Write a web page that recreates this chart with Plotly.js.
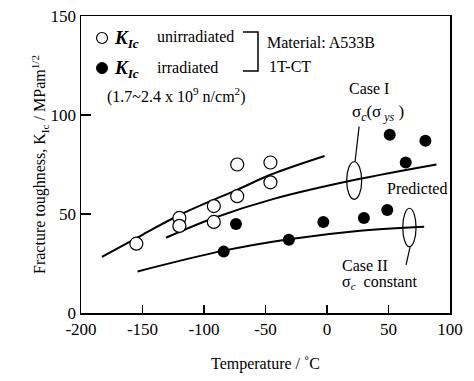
<!DOCTYPE html>
<html>
<head>
<meta charset="utf-8">
<script src="https://cdn.plot.ly/plotly-3.0.1.min.js"></script>
<style>html,body{margin:0;padding:0;background:#fff;}#chart{width:474px;height:381px;}</style>
</head>
<body>
<div id="chart"></div>
<script>
// Measured K_Ic data (temperature in °C, K_Ic in MPa m^1/2)
const unirrTemp = [-155, -120, -120, -92, -92, -73, -73, -46, -46];
const unirrKIc  = [35, 48, 44, 54, 46, 75, 59, 76, 66];
const irrTemp   = [-84, -74, -31, -3, 30, 49, 51, 64, 80];
const irrKIc    = [31, 45, 37, 46, 48, 52, 90, 76, 87];

// Fitted / predicted curves
const unirrFitTemp = [-183, -150, -120, -90, -73, -46, -2];
const unirrFitKIc  = [28.4, 39.5, 49.5, 57.8, 62.2, 69.8, 79.3];
const caseITemp = [-131, -92, -44, 21, 89];
const caseIKIc  = [38, 48, 57.5, 67, 75];
const caseIITemp = [-154, -84, -31, 27, 79];
const caseIIKIc  = [21, 31.5, 37.3, 41.6, 43.6];

const xTicks = [-200, -150, -100, -50, 0, 50, 100];
const yTicks = [0, 50, 100, 150];

const FONT = 'Liberation Serif';

const traces = [
  {x: unirrFitTemp, y: unirrFitKIc, mode: 'lines', line: {color: '#000', width: 2, shape: 'spline'}, showlegend: false, hoverinfo: 'skip'},
  {x: caseITemp, y: caseIKIc, mode: 'lines', line: {color: '#000', width: 2, shape: 'spline'}, showlegend: false, hoverinfo: 'skip'},
  {x: caseIITemp, y: caseIIKIc, mode: 'lines', line: {color: '#000', width: 2, shape: 'spline'}, showlegend: false, hoverinfo: 'skip'},
  {x: unirrTemp, y: unirrKIc, mode: 'markers', marker: {symbol: 'circle', size: 13, color: '#fff', line: {color: '#000', width: 1.2}}, showlegend: false},
  {x: irrTemp, y: irrKIc, mode: 'markers', marker: {symbol: 'circle', size: 12, color: '#000'}, showlegend: false}
];

function ann(x, y, text, extra) {
  return Object.assign({x: x, y: y, xref: 'x', yref: 'y', text: text, showarrow: false, xanchor: 'left', yanchor: 'middle', font: {family: FONT, size: 16, color: '#000'}}, extra || {});
}

const annotations = [
  ann(-175, 138.3, '<b><i>K<sub>Ic</sub></i></b>', {font: {family: FONT, size: 19, color: '#000'}}),
  ann(-139.8, 139.5, 'unirradiated'),
  ann(-175, 123.1, '<b><i>K<sub>Ic</sub></i></b>', {font: {family: FONT, size: 19, color: '#000'}}),
  ann(-139.8, 124.2, 'irradiated'),
  ann(-180.5, 110.1, '(1.7~2.4 x 10<sup>9</sup> n/cm<sup>2</sup>)'),
  ann(-50.4, 136.4, 'Material: A533B'),
  ann(-48.8, 124.7, '1T-CT'),
  ann(16.3, 113.6, 'Case I'),
  ann(18.7, 101, 'σ<sub><i>c</i></sub>(σ<sub> <i>ys</i></sub> )', {font: {family: FONT, size: 17, color: '#000'}}),
  ann(47.2, 63.1, 'Predicted'),
  ann(10.6, 24.2, 'Case II'),
  ann(10.6, 15.2, 'σ<sub><i>c</i></sub>  constant')
];

const shapes = [
  // legend symbols
  {type: 'circle', xref: 'x', yref: 'y', xsizemode: 'pixel', ysizemode: 'pixel', xanchor: -182.9, yanchor: 138.9, x0: -5.5, x1: 5.5, y0: -5.5, y1: 5.5, line: {color: '#000', width: 1.2}, fillcolor: '#fff'},
  {type: 'circle', xref: 'x', yref: 'y', xsizemode: 'pixel', ysizemode: 'pixel', xanchor: -182.9, yanchor: 123.7, x0: -5.5, x1: 5.5, y0: -5.5, y1: 5.5, line: {color: '#000', width: 1}, fillcolor: '#000'},
  // bracket
  {type: 'path', xref: 'x', yref: 'y', path: 'M -68.3 141.9 L -56.1 141.9 L -56.1 122.2 L -68.3 122.2', line: {color: '#000', width: 1.5}},
  // Case I ellipse and leader
  {type: 'circle', xref: 'x', yref: 'y', x0: 16.0, x1: 28.2, y0: 57.4, y1: 76.4, line: {color: '#000', width: 1.2}},
  {type: 'line', xref: 'x', yref: 'y', x0: 22.8, y0: 76.4, x1: 26.1, y1: 94.1, line: {color: '#000', width: 1.2}},
  // Case II ellipse and leader
  {type: 'circle', xref: 'x', yref: 'y', x0: 61.6, x1: 72.4, y0: 33.5, y1: 52.9, line: {color: '#000', width: 1.2}},
  {type: 'line', xref: 'x', yref: 'y', x0: 67.6, y0: 33.5, x1: 64.3, y1: 24.3, line: {color: '#000', width: 1.2}}
];

const layout = {
  width: 474, height: 381,
  margin: {l: 81, r: 24, t: 16, b: 68},
  paper_bgcolor: '#fff', plot_bgcolor: '#fff',
  font: {family: FONT, size: 16, color: '#000'},
  showlegend: false,
  xaxis: {
    range: [-200, 100], tickvals: xTicks, ticktext: xTicks.map(String),
    ticks: 'inside', ticklen: 8, tickwidth: 1.2, tickcolor: '#000',
    showline: true, linecolor: '#000', linewidth: 1.5, mirror: true,
    showgrid: false, zeroline: false,
    tickfont: {family: FONT, size: 17},
    title: {text: 'Temperature / ˚C', font: {family: FONT, size: 16}, standoff: 20}
  },
  yaxis: {
    range: [0, 150], tickvals: yTicks, ticktext: yTicks.map(String),
    ticks: 'inside', ticklen: 10, tickwidth: 1.2, tickcolor: '#000',
    showline: true, linecolor: '#000', linewidth: 1.5, mirror: true,
    showgrid: false, zeroline: false,
    tickfont: {family: FONT, size: 17},
    title: {text: 'Fracture toughness, K<sub>Ic</sub> / MPam<sup>1/2</sup>', font: {family: FONT, size: 16}, standoff: 0}
  },
  annotations: annotations,
  shapes: shapes
};

Plotly.newPlot('chart', traces, layout, {displayModeBar: false, staticPlot: true});
</script>
</body>
</html>
